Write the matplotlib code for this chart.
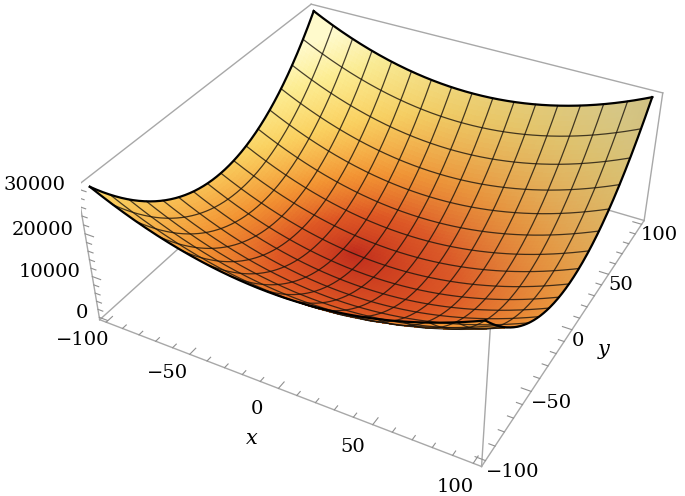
import numpy as np
import matplotlib
matplotlib.use("Agg")
import matplotlib.pyplot as plt
from mpl_toolkits.mplot3d import proj3d

# ---- data ----
x_range = [-100, 100]
y_range = [-100, 100]
x_coef = 1.0          # surface height z = x_coef*x^2 + y_coef*y^2
y_coef = 2.0
x_ticks = [-100, -50, 0, 50, 100]
y_ticks = [-100, -50, 0, 50, 100]
z_ticks = [0, 10000, 20000, 30000]
x_tick_labels = ["\u2212100", "\u221250", "0", "50", "100"]
y_tick_labels = ["\u2212100", "\u221250", "0", "50", "100"]
z_tick_labels = ["0", "10000", "20000", "30000"]
z_range = [0, 30000]
mesh_count = 15

# ---- surface sampling ----
n = 97
xs = np.linspace(x_range[0], x_range[1], n)
ys = np.linspace(y_range[0], y_range[1], n)
X, Y = np.meshgrid(xs, ys)
Z = x_coef * X**2 + y_coef * Y**2

# ---- colouring (imitates Mathematica default lighting) ----
P = (X + 20) / 100.0
Q = Y / 100.0
r = np.sqrt(P**2 + Q**2)
t = np.clip(r / np.sqrt(2), 0, 1) ** 0.7
dp = np.where(r > 0, P / np.maximum(r, 1e-9), 0)
dq = np.where(r > 0, Q / np.maximum(r, 1e-9), 0)
a = (-dp + dq) / np.sqrt(2)
D = 0.855 + 0.295 * a
te = np.clip(t * D, 0, 1)
stops = np.array([0.0, 0.35, 0.55, 0.75, 0.9, 1.0])
cols = np.array([
    [0.74, 0.16, 0.11],
    [0.87, 0.34, 0.14],
    [0.95, 0.58, 0.20],
    [0.98, 0.82, 0.38],
    [0.99, 0.93, 0.58],
    [1.00, 0.98, 0.80],
])
rgb = np.stack([np.interp(te, stops, cols[:, k]) for k in range(3)], axis=-1)
Pc = X / 100.0
wg = 0.45 * np.clip((Pc + Q) / 2, 0, 1) ** 1.5
gray = np.array([0.60, 0.60, 0.55])
rgb = rgb * (1 - wg[..., None]) + gray * wg[..., None]
fc = np.concatenate([rgb, np.ones(rgb.shape[:2] + (1,))], axis=-1)

# ---- figure ----
plt.rcParams["font.family"] = ["DejaVu Serif"]
fig = plt.figure(figsize=(6.85, 4.96), dpi=100)
ax = fig.add_axes([0.118, -0.010, 0.865, 1.163], projection="3d",
                  computed_zorder=False)
ax.apply_aspect = lambda position=None: None
ax.view_init(elev=36.2, azim=-61.56)
ax.set_proj_type("persp", focal_length=0.42)
ax.set_box_aspect((1, 1, 0.4), zoom=1.0)

padx = 0.02 * (x_range[1] - x_range[0])
pady = 0.02 * (y_range[1] - y_range[0])
padz = 0.02 * (z_range[1] - z_range[0])
x0, x1 = x_range[0] - padx, x_range[1] + padx
y0, y1 = y_range[0] - pady, y_range[1] + pady
z0, z1 = z_range[0] - padz, z_range[1] + padz
ax.set_xlim(x0, x1)
ax.set_ylim(y0, y1)
ax.set_zlim(z0, z1)

for axis in (ax.xaxis, ax.yaxis, ax.zaxis):
    axis.set_pane_color((1, 1, 1, 0))
    axis.pane.set_edgecolor((1, 1, 1, 0))
    axis.line.set_color((0, 0, 0, 0))
ax.grid(False)
ax.zaxis.set_ticks_position("lower")

box_col = "#a8a8a8"
edges = [
    ((x0, x0), (y0, y1), (z1, z1)),
    ((x0, x1), (y1, y1), (z1, z1)),
    ((x0, x0), (y0, y0), (z0, z1)),
    ((x1, x1), (y1, y1), (z0, z1)),
    ((x1, x1), (y0, y0), (z0, z1)),
    ((x0, x1), (y0, y0), (z0, z0)),
    ((x1, x1), (y0, y1), (z0, z0)),
    ((x0, x0), (y0, y1), (z0, z0)),
    ((x0, x1), (y1, y1), (z0, z0)),
]
for ex, ey, ez in edges:
    ax.plot(ex, ey, ez, color=box_col, lw=1.0, zorder=1)

ax.plot_surface(X, Y, Z, facecolors=fc, rstride=1, cstride=1,
                linewidth=0, antialiased=False, shade=False, zorder=2)

# mesh lines
fine = np.linspace(-100, 100, 201)
mesh_col = (0.10, 0.08, 0.05)
for k in range(1, mesh_count + 1):
    v = x_range[0] + k * (x_range[1] - x_range[0]) / (mesh_count + 1)
    ax.plot(np.full_like(fine, v), fine, x_coef * v**2 + y_coef * fine**2,
            color=mesh_col, lw=0.9, alpha=0.8, zorder=3)
    ax.plot(fine, np.full_like(fine, v), x_coef * fine**2 + y_coef * v**2,
            color=mesh_col, lw=0.9, alpha=0.8, zorder=3)
# boundary
for v in (x_range[0], x_range[1]):
    ax.plot(np.full_like(fine, v), fine, x_coef * v**2 + y_coef * fine**2,
            color="black", lw=1.6, zorder=4)
for v in (y_range[0], y_range[1]):
    ax.plot(fine, np.full_like(fine, v), x_coef * fine**2 + y_coef * v**2,
            color="black", lw=1.6, zorder=4)

# tick marks (every 10 on x/y, every 2000 on z), drawn along the box edges
ax.set_xticks([])
ax.set_yticks([])
ax.set_zticks([])
for axis in (ax.xaxis, ax.yaxis, ax.zaxis):
    axis.label.set_visible(False)
    axis.offsetText.set_visible(False)

tick_col = "#909090"
for v in np.arange(x_range[0], x_range[1] + 1, 10):
    ln = 5 if v % 50 == 0 else 3
    ax.plot([v, v], [y0, y0 + ln], [z0, z0], color=tick_col, lw=0.8, zorder=1)
for v in np.arange(y_range[0], y_range[1] + 1, 10):
    ln = 5 if v % 50 == 0 else 3
    ax.plot([x1, x1 - ln], [v, v], [z0, z0], color=tick_col, lw=0.8, zorder=1)
for v in np.arange(z_range[0], z_range[1] + 1, 2000):
    ln = 5 if v % 10000 == 0 else 3
    ax.plot([x0, x0 + ln], [y0, y0], [v, v], color=tick_col, lw=0.8, zorder=1)

# labels: positions projected through the axes' own 3D projection
M = ax.get_proj()


def label(xd, yd, zd, s, **kw):
    px, py, _ = proj3d.proj_transform(xd, yd, zd, M)
    ax.text2D(px, py, s, transform=ax.transData, **kw)


fs = 14
for v, s in zip(x_ticks, x_tick_labels):
    label(v, y0 - 18, z0 + 800, s, ha="center", va="center", fontsize=fs)
for v, s in zip(y_ticks, y_tick_labels):
    label(x1 + 0.5, v, z0 - 2800, s, ha="left", va="center", fontsize=fs)
for v, s in zip(z_ticks, z_tick_labels):
    label(x0 - 7, y0, v, s, ha="right", va="center", fontsize=fs)
label(7, y0 - 33, z0, "x", ha="center", va="center", fontsize=15,
      fontstyle="italic")
label(x1 + 17, 0, z0 - 2300, "y", ha="center", va="center", fontsize=15,
      fontstyle="italic")

fig.savefig("out.png", dpi=100)
